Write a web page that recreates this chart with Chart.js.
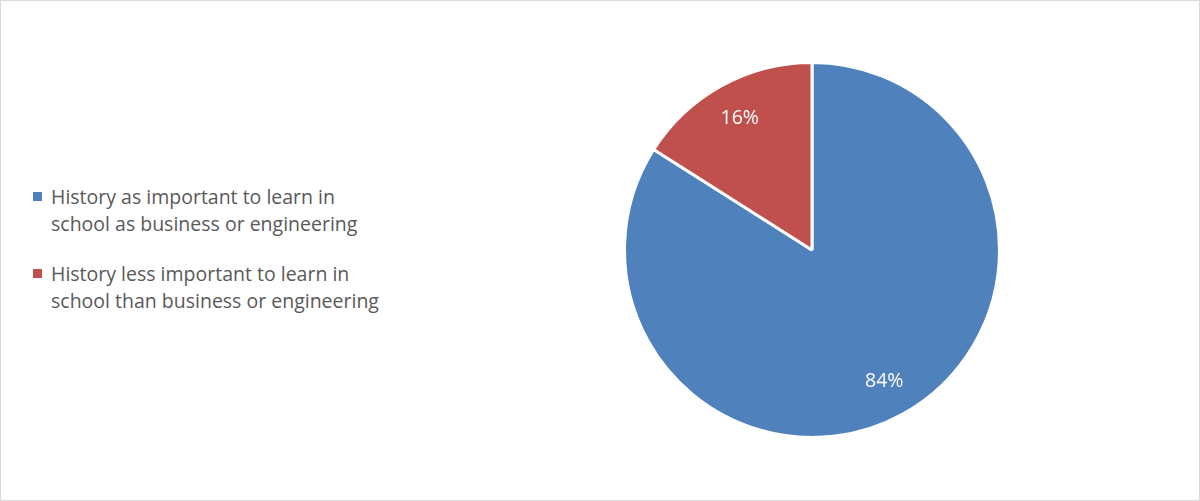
<!DOCTYPE html>
<html><head><meta charset="utf-8">
<script src="https://cdn.jsdelivr.net/npm/chart.js@4"></script>
<style>
body{margin:0;background:#fff;}
#frame{position:absolute;left:0;top:0;width:1198px;height:499px;border:1px solid #d9d9d9;}
#wrap{position:absolute;left:623px;top:61px;width:378px;height:378px;}
#legend{position:absolute;left:33px;top:183px;font-family:"Open Sans","Liberation Sans",sans-serif;font-size:19.5px;color:#595959;line-height:27px;}
.item{position:relative;padding-left:18px;margin-bottom:23px;}
.sw{position:absolute;left:0;top:9px;width:9px;height:9px;}
</style></head><body>
<div id="frame"></div>
<div id="legend"></div>
<div id="wrap"><canvas id="c"></canvas></div>
<script>
const categories = [
 ["History as important to learn in","school as business or engineering"],
 ["History less important to learn in","school than business or engineering"]
];
const values = [84, 16];
const colors = ["#4f81bd", "#c0504d"];

const lg = document.getElementById('legend');
categories.forEach((c,i)=>{
  const d=document.createElement('div');d.className='item';
  d.innerHTML='<span class="sw" style="background:'+colors[i]+'"></span>'+c.join('<br>');
  lg.appendChild(d);
});

const labelPlugin={id:'lbl',afterDatasetsDraw(chart){
  const ctx=chart.ctx;const meta=chart.getDatasetMeta(0);
  ctx.save();ctx.fillStyle='#fff';ctx.font='19.5px "Open Sans","Liberation Sans",sans-serif';
  ctx.textAlign='center';ctx.textBaseline='middle';
  meta.data.forEach((a,i)=>{
    const mid=(a.startAngle+a.endAngle)/2;const r=a.outerRadius*0.8;
    ctx.fillText(values[i]+'%',a.x+Math.cos(mid)*r,a.y+Math.sin(mid)*r);
  });
  ctx.restore();
}};

new Chart(document.getElementById('c'),{
  type:'pie',
  data:{labels:categories.map(c=>c.join(' ')),datasets:[{data:values,backgroundColor:colors,borderColor:'#fff',borderWidth:3}]},
  options:{responsive:true,maintainAspectRatio:false,animation:false,
    layout:{padding:0},
    plugins:{legend:{display:false},tooltip:{enabled:false}}},
  plugins:[labelPlugin]
});
</script></body></html>
